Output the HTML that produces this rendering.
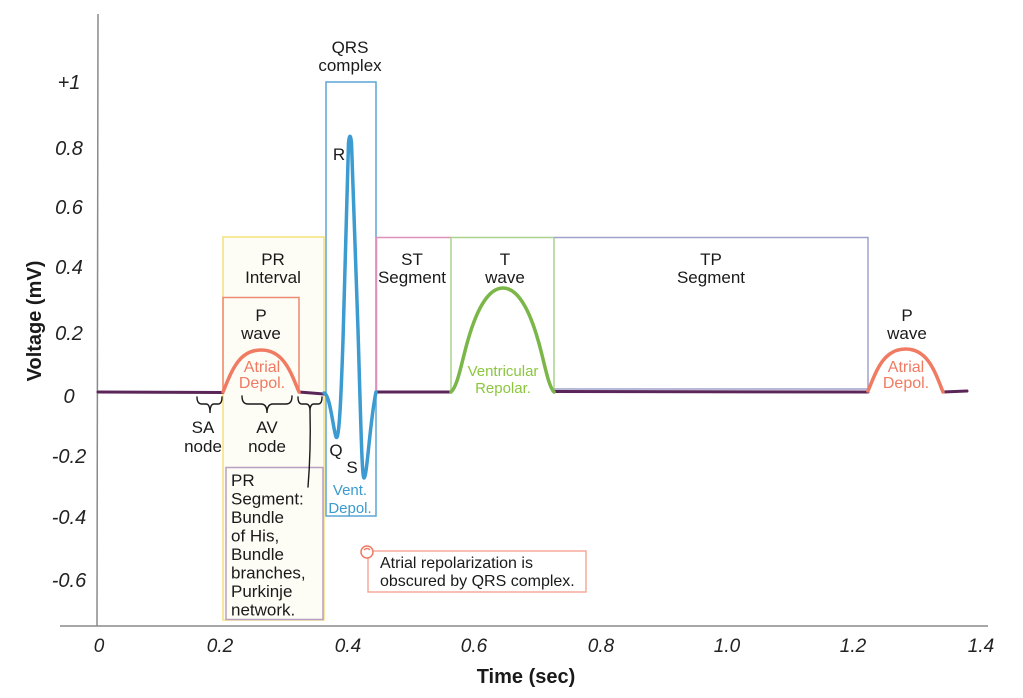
<!DOCTYPE html>
<html><head><meta charset="utf-8"><style>
html,body{margin:0;padding:0;background:#fff;}
svg{display:block;}
text{font-family:"Liberation Sans",sans-serif;fill:#1a1a1a;}
.t{font-size:17px;text-anchor:middle;}
.ax{font-size:20px;font-style:italic;text-anchor:middle;fill:#222;}
</style></head><body>
<svg width="1023" height="698" viewBox="0 0 1023 698" xmlns="http://www.w3.org/2000/svg">
<rect width="1023" height="698" fill="#fff"/>
<!-- axes -->
<line x1="98" y1="14" x2="97" y2="626" stroke="#8a8a8a" stroke-width="1.5"/>
<line x1="60" y1="626" x2="988" y2="626" stroke="#8a8a8a" stroke-width="1.5"/>

<!-- boxes -->
<rect x="223" y="237" width="101" height="383" fill="#fdfcf5" stroke="#f5e07a" stroke-width="1.5"/>
<path d="M223,392 V297.5 H299 V392" fill="none" stroke="#ee8a72" stroke-width="1.5"/>
<rect x="226" y="467.5" width="97" height="152" fill="none" stroke="#b9a0c2" stroke-width="1.5"/>
<rect x="326" y="82" width="50" height="434" fill="#fff" stroke="#5aa6d6" stroke-width="1.5"/>
<path d="M376.5,392 V237.5 H451" fill="none" stroke="#dc90ba" stroke-width="1.5"/>
<path d="M451,392 V237.5 H554 V392" fill="none" stroke="#aad28c" stroke-width="1.5"/>
<path d="M554,237.5 H868 V389 H554" fill="none" stroke="#a0a2cc" stroke-width="1.5"/>
<rect x="368" y="551" width="218" height="41" fill="none" stroke="#f5aa9c" stroke-width="1.5"/>

<!-- baseline -->
<g stroke="#5a2558" stroke-width="3" fill="none" stroke-linecap="round">
<path d="M98,392 L223,392.5"/>
<path d="M299,392 L324,394"/>
<path d="M376,392 L451,392"/>
<path d="M554,391.5 L868,392"/>
<path d="M943,392 L967,391"/>
</g>
<!-- P waves -->
<g stroke="#f07a62" stroke-width="3.5" fill="none" stroke-linecap="round">
<path d="M223,392 C231,373 238,350 261,350 C284,350 291,373 299,392"/>
<path d="M868,391 C876,372 883,349 905.5,349 C928,349 935,372 943,392"/>
</g>
<!-- QRS -->
<path d="M324,393 C330,394 333,428 336,437 C339,443 341,400 343,340 L348.5,143 C349.5,134 350.5,134 351.5,143 L358,330 C361,430 362,478 364,478 C367,478 370,420 376,392" stroke="#3c9bd0" stroke-width="3.5" fill="none" stroke-linejoin="round" stroke-linecap="round"/>
<!-- T wave -->
<path d="M451,392 C458,386 462,360 468,340 C478,305 490,288 503,288 C516,288 528,305 538,340 C544,360 548,386 554,392" stroke="#7ab648" stroke-width="3.5" fill="none" stroke-linecap="round"/>

<!-- braces -->
<g stroke="#1a1a1a" stroke-width="1.4" fill="none" stroke-linecap="round">
<path d="M197,397 Q197,404 202,404 L206,404 Q210,404 210,413 Q210,404 214,404 L218,404 Q222,404 222,397"/>
<path d="M242,396 Q242,404 248,404 L261,404 Q267,404 267,413 Q267,404 273,404 L286,404 Q292,404 292,396"/>
<path d="M298,397 Q298,404 302,404 L306,404 Q310,404 310,411 Q310,404 314,404 L318,404 Q322,404 322,397"/>
<path d="M310,411 Q311,450 308,487"/>
</g>
<!-- atrial repol icon -->
<circle cx="367" cy="552" r="6" fill="#fff" stroke="#f07a62" stroke-width="1.5"/>
<path d="M364,550 Q367,547 370,550" stroke="#f07a62" stroke-width="1.3" fill="none"/>

<!-- y tick labels -->
<text class="ax" x="69" y="89">+1</text>
<text class="ax" x="69" y="155">0.8</text>
<text class="ax" x="69" y="214">0.6</text>
<text class="ax" x="69" y="274">0.4</text>
<text class="ax" x="69" y="340">0.2</text>
<text class="ax" x="69" y="403">0</text>
<text class="ax" x="69" y="463">-0.2</text>
<text class="ax" x="69" y="524">-0.4</text>
<text class="ax" x="69" y="587">-0.6</text>
<!-- x tick labels -->
<g>
<text class="ax" style="font-size:19px" x="99" y="652">0</text>
<text class="ax" style="font-size:19px" x="220" y="652">0.2</text>
<text class="ax" style="font-size:19px" x="348" y="652">0.4</text>
<text class="ax" style="font-size:19px" x="474" y="652">0.6</text>
<text class="ax" style="font-size:19px" x="601" y="652">0.8</text>
<text class="ax" style="font-size:19px" x="727" y="652">1.0</text>
<text class="ax" style="font-size:19px" x="853" y="652">1.2</text>
<text class="ax" style="font-size:19px" x="981" y="652">1.4</text>
</g>
<text x="526" y="683" style="font-size:20px;font-weight:bold;text-anchor:middle;">Time (sec)</text>
<text transform="translate(41,321) rotate(-90)" style="font-size:20px;font-weight:bold;text-anchor:middle;">Voltage (mV)</text>

<!-- labels -->
<text class="t" x="350" y="53">QRS</text>
<text class="t" x="350" y="71">complex</text>
<text class="t" x="339" y="160">R</text>
<text class="t" x="273" y="265">PR</text>
<text class="t" x="273" y="283">Interval</text>
<text class="t" x="261" y="321">P</text>
<text class="t" x="261" y="339">wave</text>
<text class="t" x="412" y="265">ST</text>
<text class="t" x="412" y="283">Segment</text>
<text class="t" x="505" y="265">T</text>
<text class="t" x="505" y="283">wave</text>
<text class="t" x="711" y="265">TP</text>
<text class="t" x="711" y="283">Segment</text>
<text class="t" x="907" y="321">P</text>
<text class="t" x="907" y="339">wave</text>
<g style="font-size:16px;text-anchor:middle;">
<text x="262" y="372" style="fill:#f07a62">Atrial</text>
<text x="262" y="388" style="fill:#f07a62">Depol.</text>
<text x="906" y="372" style="fill:#f07a62">Atrial</text>
<text x="906" y="388" style="fill:#f07a62">Depol.</text>
</g>
<g style="font-size:15px;text-anchor:middle;">
<text x="503" y="376" style="fill:#8cc63f">Ventricular</text>
<text x="503" y="393" style="fill:#8cc63f">Repolar.</text>
<text x="350" y="495" style="fill:#3a9ad1">Vent.</text>
<text x="350" y="513" style="fill:#3a9ad1">Depol.</text>
</g>
<text class="t" x="336" y="456">Q</text>
<text class="t" x="352" y="473">S</text>
<text class="t" x="203" y="433">SA</text>
<text class="t" x="203" y="452">node</text>
<text class="t" x="267" y="433">AV</text>
<text class="t" x="267" y="452">node</text>
<g style="font-size:17px">
<text x="231" y="486">PR</text>
<text x="231" y="504.5">Segment:</text>
<text x="231" y="523">Bundle</text>
<text x="231" y="541.5">of His,</text>
<text x="231" y="560">Bundle</text>
<text x="231" y="578.5">branches,</text>
<text x="231" y="597">Purkinje</text>
<text x="231" y="615.5">network.</text>
</g>
<g style="font-size:16px">
<text x="380" y="568">Atrial repolarization is</text>
<text x="380" y="586">obscured by QRS complex.</text>
</g>
</svg>
</body></html>
